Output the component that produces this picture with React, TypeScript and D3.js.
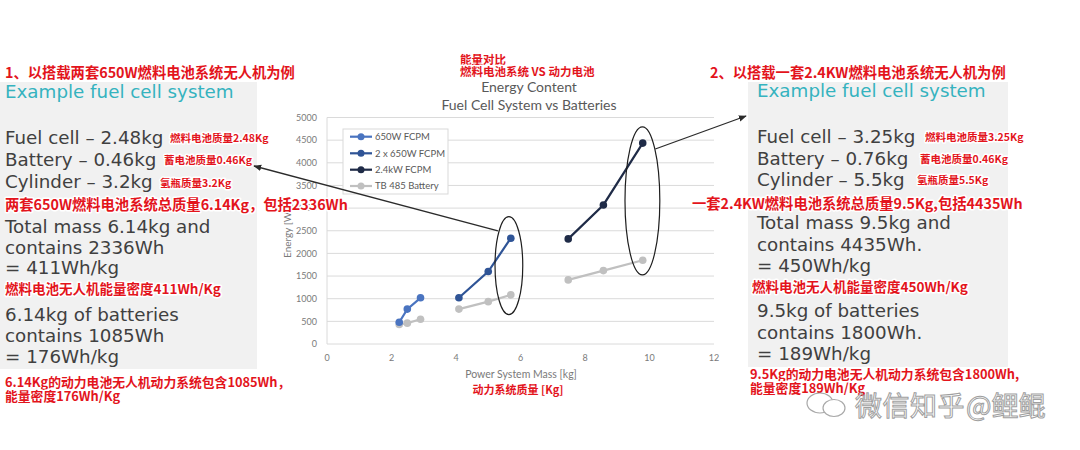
import React from "react";
import * as d3 from "d3";

// ---------- chart data ----------
const seriesNames = ["650W FCPM", "2 x 650W FCPM", "2.4kW FCPM", "TB 485 Battery"];
const seriesColors = ["#4a74c0", "#2f5496", "#1f2b47", "#c0c0c0"];

const fcpm650Mass = [2.24, 2.49, 2.9];
const fcpm650Energy = [480, 770, 1020];
const fcpm2x650Mass = [4.09, 5.0, 5.7];
const fcpm2x650Energy = [1020, 1600, 2336];
const fcpm24Mass = [7.48, 8.57, 9.79];
const fcpm24Energy = [2320, 3070, 4435];
const batteryMass = [2.24, 2.49, 2.9, null, 4.09, 5.0, 5.7, null, 7.48, 8.57, 9.79];
const batteryEnergy = [430, 460, 545, null, 770, 935, 1085, null, 1415, 1620, 1850];

const xTicks = [0, 2, 4, 6, 8, 10, 12];
const yTicks = [0, 500, 1000, 1500, 2000, 2500, 3000, 3500, 4000, 4500, 5000];

// highlighted groups (ellipses) in data units: [cx, cy, rx(kg), ry(Wh)]
const highlight1 = [5.64, 1730, 0.43, 1080];
const highlight2 = [9.78, 3160, 0.54, 1635];

// ---------- texts ----------
const chartTitle = ["Energy Content", "Fuel Cell System vs Batteries"];
const chartTitleCn = ["能量对比", "燃料电池系统 VS 动力电池"];
const xTitle = "Power System Mass [kg]";
const xTitleCn = "动力系统质量 [Kg]";
const yTitle = "Energy [Wh]";

const leftHeading = "1、以搭载两套650W燃料电池系统无人机为例";
const leftParts = ["Fuel cell – 2.48kg", "Battery – 0.46kg", "Cylinder – 3.2kg"];
const leftPartsCn = ["燃料电池质量2.48Kg", "蓄电池质量0.46Kg", "氢瓶质量3.2Kg"];
const leftTotalCn = "两套650W燃料电池系统总质量6.14Kg，包括2336Wh";
const leftTotal = ["Total mass 6.14kg and", "contains 2336Wh", "= 411Wh/kg"];
const leftDensityCn = "燃料电池无人机能量密度411Wh/Kg";
const leftBattery = ["6.14kg of batteries", "contains 1085Wh", "= 176Wh/kg"];
const leftBatteryCn = ["6.14Kg的动力电池无人机动力系统包含1085Wh，", "能量密度176Wh/Kg"];

const rightHeading = "2、以搭载一套2.4KW燃料电池系统无人机为例";
const rightParts = ["Fuel cell – 3.25kg", "Battery – 0.76kg", "Cylinder – 5.5kg"];
const rightPartsCn = ["燃料电池质量3.25Kg", "蓄电池质量0.46Kg", "氢瓶质量5.5Kg"];
const rightTotalCn = "一套2.4KW燃料电池系统总质量9.5Kg,包括4435Wh";
const rightTotal = ["Total mass 9.5kg and", "contains 4435Wh.", "= 450Wh/kg"];
const rightDensityCn = "燃料电池无人机能量密度450Wh/Kg";
const rightBattery = ["9.5kg of batteries", "contains 1800Wh.", "= 189Wh/kg"];
const rightBatteryCn = ["9.5Kg的动力电池无人机动力系统包含1800Wh,", "能量密度189Wh/Kg"];
const exampleTitle = "Example fuel cell system";
const watermarkA = "微信知乎";
const watermarkB = "@鲤鲲";

const RED = "#e3141c";
const GRAY_TXT = "#404040";
const TEAL = "#35b3bf";
const CJK = "'Noto Sans CJK SC', sans-serif";
const VER = "'DejaVu Sans', Verdana, sans-serif";
const CAL = "Lato, 'Open Sans', sans-serif";

function RedText({ x, y, size, children, anchor }: any) {
  return (
    <text
      x={x}
      y={y}
      fontFamily={CJK}
      fontWeight={700}
      fontSize={size}
      fill={RED}
      stroke="#ffffff"
      strokeWidth={3}
      strokeLinejoin="round"
      textAnchor={anchor || "start"}
      style={{ paintOrder: "stroke" }}
    >
      {children}
    </text>
  );
}

function GrayText({ x, y, children, color }: any) {
  return (
    <text x={x} y={y} fontFamily={VER} fontSize={18.3} fill={color || GRAY_TXT}>
      {children}
    </text>
  );
}

export default function App() {
  const W = 1080;
  const H = 450;
  const x = d3.scaleLinear().domain([0, 12]).range([327, 714]);
  const y = d3.scaleLinear().domain([0, 5000]).range([344, 117.5]);

  const series = [
    { mass: fcpm650Mass, energy: fcpm650Energy },
    { mass: fcpm2x650Mass, energy: fcpm2x650Energy },
    { mass: fcpm24Mass, energy: fcpm24Energy },
    { mass: batteryMass, energy: batteryEnergy },
  ];
  const drawOrder = [3, 0, 1, 2];

  const line = d3
    .line<[number | null, number | null]>()
    .defined((d) => d[0] != null && d[1] != null)
    .x((d) => x(d[0] as number))
    .y((d) => y(d[1] as number));

  const ell = (h: number[]) => ({
    cx: x(h[0]),
    cy: y(h[1]),
    rx: x(h[2]) - x(0),
    ry: y(0) - y(h[3]),
  });
  const e1 = ell(highlight1);
  const e2 = ell(highlight2);

  // arrow from ellipse 1 (upper-left) to left panel; from ellipse 2 (upper-right) to right panel
  const a1 = { x1: e1.cx - e1.rx * 0.79, y1: e1.cy - e1.ry * 0.71, x2: 254, y2: 166 };
  const a2 = { x1: e2.cx + e2.rx * 0.74, y1: e2.cy - e2.ry * 0.7, x2: 746, y2: 116 };

  const legendX = 343;
  const legendY = 129;
  const legendRowY = [136.7, 153.3, 169.7, 186];

  const lx = 5;
  const rx = 757;
  const lh = 21.2;

  return (
    <svg
      width={W}
      height={H}
      viewBox={`0 0 ${W} ${H}`}
      style={{ position: "absolute", left: 0, top: 0, background: "#ffffff" }}
    >
      <defs>
        <marker id="arrowHead" viewBox="0 0 10 10" refX="9" refY="5" markerWidth="8" markerHeight="8" orient="auto-start-reverse" markerUnits="userSpaceOnUse">
          <path d="M0,1 L10,5 L0,9 z" fill="#2b2b2b" />
        </marker>
      </defs>
      <rect x={0} y={0} width={W} height={H} fill="#ffffff" />

      {/* side panels */}
      <rect x={0} y={82} width={257} height={287} fill="#f1f1f1" />
      <rect x={748} y={82} width={260} height={285} fill="#f1f1f1" />

      {/* chart titles */}
      <RedText x={460} y={64} size={11.5}>{chartTitleCn[0]}</RedText>
      <RedText x={460} y={76} size={11.5}>{chartTitleCn[1]}</RedText>
      <text x={529} y={91.5} textAnchor="middle" fontFamily={CAL} fontSize={14} fill="#595959">{chartTitle[0]}</text>
      <text x={529} y={110} textAnchor="middle" fontFamily={CAL} fontSize={14} fill="#595959">{chartTitle[1]}</text>

      {/* grid */}
      {yTicks.map((t) => (
        <line key={"g" + t} x1={x(0)} x2={x(12)} y1={y(t)} y2={y(t)} stroke="#dadada" strokeWidth={1} />
      ))}
      <line x1={x(0)} x2={x(0)} y1={y(0)} y2={y(5000)} stroke="#dadada" strokeWidth={1} />
      {yTicks.map((t) => (
        <text key={"yt" + t} x={317} y={y(t) + 3.2} textAnchor="end" fontFamily={CAL} fontSize={9} fill="#7a7a7a">{t}</text>
      ))}
      {xTicks.map((t) => (
        <text key={"xt" + t} x={x(t)} y={361} textAnchor="middle" fontFamily={CAL} fontSize={9} fill="#7a7a7a">{t}</text>
      ))}
      <text transform={`translate(291, ${(y(0) + y(5000)) / 2}) rotate(-90)`} textAnchor="middle" fontFamily={CAL} fontSize={10} fill="#7a7a7a">{yTitle}</text>
      <text x={521} y={378} textAnchor="middle" fontFamily={CAL} fontSize={10.5} fill="#7a7a7a">{xTitle}</text>
      <RedText x={518} y={394} size={11} anchor="middle">{xTitleCn}</RedText>

      {/* series */}
      {drawOrder.map((i) => {
        const s = series[i];
        const pts = s.mass.map((m, k) => [m, s.energy[k]] as [number | null, number | null]);
        return (
          <g key={"s" + i}>
            <path d={line(pts) || ""} fill="none" stroke={seriesColors[i]} strokeWidth={2.2} />
            {pts
              .filter((p) => p[0] != null)
              .map((p, k) => (
                <circle key={k} cx={x(p[0] as number)} cy={y(p[1] as number)} r={3.8} fill={seriesColors[i]} />
              ))}
          </g>
        );
      })}

      {/* legend */}
      <rect x={legendX} y={legendY} width={105} height={65} fill="#ffffff" stroke="#d9d9d9" strokeWidth={1} />
      {seriesNames.map((n, i) => (
        <g key={"l" + i}>
          <line x1={350} x2={372} y1={legendRowY[i]} y2={legendRowY[i]} stroke={seriesColors[i]} strokeWidth={2.2} />
          <circle cx={361} cy={legendRowY[i]} r={3.5} fill={seriesColors[i]} />
          <text x={375} y={legendRowY[i] + 3.3} fontFamily={CAL} fontSize={9.5} fill="#595959">{n}</text>
        </g>
      ))}

      {/* highlight ellipses and arrows */}
      <ellipse {...e1} fill="none" stroke="#1e1e1e" strokeWidth={1.2} />
      <ellipse {...e2} fill="none" stroke="#1e1e1e" strokeWidth={1.2} />
      <line {...a1} stroke="#2b2b2b" strokeWidth={1.3} markerEnd="url(#arrowHead)" />
      <line {...a2} stroke="#2b2b2b" strokeWidth={1.3} markerEnd="url(#arrowHead)" />

      {/* left panel text */}
      <RedText x={lx} y={78} size={14.3}>{leftHeading}</RedText>
      <GrayText x={lx} y={97.5} color={TEAL}>{exampleTitle}</GrayText>
      {leftParts.map((t, i) => (
        <GrayText key={"lp" + i} x={lx} y={144.3 + i * 22} >{t}</GrayText>
      ))}
      <RedText x={170} y={142} size={10.5}>{leftPartsCn[0]}</RedText>
      <RedText x={164} y={163.5} size={10.5}>{leftPartsCn[1]}</RedText>
      <RedText x={160} y={186.5} size={10.5}>{leftPartsCn[2]}</RedText>
      {leftTotal.map((t, i) => (
        <GrayText key={"lt" + i} x={lx} y={233.3 + i * 20.5}>{t}</GrayText>
      ))}
      {leftBattery.map((t, i) => (
        <GrayText key={"lb" + i} x={lx} y={320.7 + i * lh}>{t}</GrayText>
      ))}
      <RedText x={lx} y={210} size={14.3}>{leftTotalCn}</RedText>
      <RedText x={lx} y={294} size={13.5}>{leftDensityCn}</RedText>
      <RedText x={lx} y={386.5} size={12.8}>{leftBatteryCn[0]}</RedText>
      <RedText x={lx} y={401} size={12.8}>{leftBatteryCn[1]}</RedText>

      {/* right panel text */}
      <RedText x={710} y={78} size={14.3}>{rightHeading}</RedText>
      <GrayText x={rx} y={96.7} color={TEAL}>{exampleTitle}</GrayText>
      {rightParts.map((t, i) => (
        <GrayText key={"rp" + i} x={rx} y={143.3 + i * 21.5}>{t}</GrayText>
      ))}
      <RedText x={925} y={141} size={10.5}>{rightPartsCn[0]}</RedText>
      <RedText x={920} y={162.5} size={10.5}>{rightPartsCn[1]}</RedText>
      <RedText x={917} y={184} size={10.5}>{rightPartsCn[2]}</RedText>
      {rightTotal.map((t, i) => (
        <GrayText key={"rt" + i} x={rx} y={229.3 + i * 21.2}>{t}</GrayText>
      ))}
      {rightBattery.map((t, i) => (
        <GrayText key={"rb" + i} x={rx} y={317.3 + i * 21.3}>{t}</GrayText>
      ))}
      <RedText x={692} y={209} size={14.3}>{rightTotalCn}</RedText>
      <RedText x={752} y={292} size={13.5}>{rightDensityCn}</RedText>
      <RedText x={750} y={378.5} size={12.8}>{rightBatteryCn[0]}</RedText>
      <RedText x={750} y={392.5} size={12.8}>{rightBatteryCn[1]}</RedText>

      {/* watermark */}
      <g opacity={0.85}>
        <ellipse cx={820} cy={403} rx={13} ry={10} fill="#ffffff" stroke="#9a9a9a" strokeWidth={1.2} />
        <ellipse cx={834} cy={408} rx={11} ry={8.5} fill="#ffffff" stroke="#9a9a9a" strokeWidth={1.2} />
        <text x={855} y={416} fontFamily={CJK} fontSize={27} fill="#ffffff" stroke="#8f8f8f" strokeWidth={1} letterSpacing={0.5}>{watermarkA}</text>
        <text x={966} y={416} fontFamily={CJK} fontSize={27} fill="#ffffff" stroke="#8f8f8f" strokeWidth={1}>{watermarkB}</text>
      </g>
    </svg>
  );
}
